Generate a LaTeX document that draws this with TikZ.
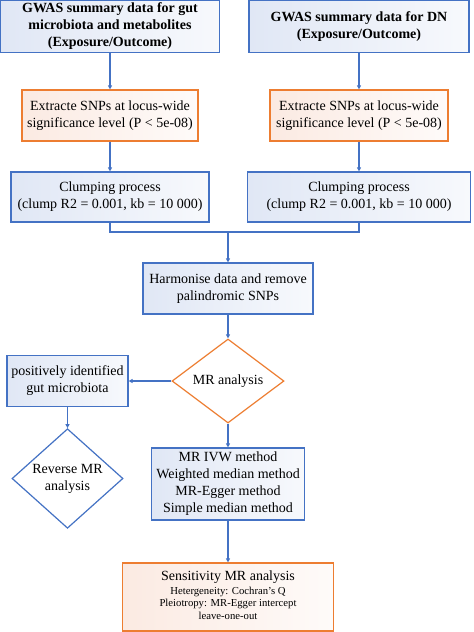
\documentclass[tikz,border=0pt]{standalone}
\usepackage{fontspec}
\setmainfont{Liberation Serif}
\usetikzlibrary{positioning,shapes.geometric,arrows.meta}
\definecolor{lineblue}{RGB}{68,114,196}
\definecolor{lineorange}{RGB}{237,125,49}
\definecolor{fillblue}{RGB}{224,231,245}
\definecolor{fillorange}{RGB}{251,234,226}
\begin{document}
\begin{tikzpicture}[x = 1pt, y = -1pt,
  base/.style = {align = center, inner sep = 0pt, line width = 1.2pt, font = \fontsize{14}{17}\selectfont},
  bluebox/.style = {base, draw = lineblue, left color = fillblue, right color = fillblue!25!white},
  orangebox/.style = {base, draw = lineorange, left color = fillorange, right color = fillorange!20!white},
  decision/.style = {base, diamond, fill = white},
  link/.style = {draw = lineblue, line width = 1.2pt, -{Triangle[length = 4pt, width = 4pt]}}]
\useasboundingbox (0,0) rectangle (474,632);
% the two data sources
\node[bluebox, minimum width = 219pt, minimum height = 52pt, font = \fontsize{14}{17}\selectfont\bfseries] (gwasA) at (110,26.5) {GWAS summary data for gut\\microbiota and metabolites\\(Exposure/Outcome)};
\node[bluebox, minimum width = 220pt, minimum height = 52pt, font = \fontsize{14}{17}\selectfont\bfseries] (gwasB) at (359,26.5) {GWAS summary data for DN\\(Exposure/Outcome)};
\node[orangebox, minimum width = 176pt, minimum height = 51pt] (extA) at (110,115.5) {Extracte SNPs at locus-wide\\significance level (P < 5e-08)};
\node[orangebox, minimum width = 178pt, minimum height = 51pt] (extB) at (359,115.5) {Extracte SNPs at locus-wide\\significance level (P < 5e-08)};
\node[bluebox, minimum width = 198pt, minimum height = 50pt] (clumpA) at (110,197) {Clumping process\\(clump R2 = 0.001, kb = 10 000)};
\node[bluebox, minimum width = 223pt, minimum height = 50pt] (clumpB) at (359,197) {Clumping process\\(clump R2 = 0.001, kb = 10 000)};
\draw[link] (gwasA) -- (extA);
\draw[link] (gwasB) -- (extB);
\draw[link] (extA) -- (clumpA);
\draw[link] (extB) -- (clumpB);
% merge
\coordinate (join) at (228,232);
\draw[draw = lineblue, line width = 1.2pt] (clumpA.south) |- (join) -| (clumpB.south);
\node[bluebox, minimum width = 170pt, minimum height = 51pt] (harm) at (228,288.5) {Harmonise data and remove\\palindromic SNPs};
\draw[link] (join) -- (harm);
\node[decision, draw = lineorange, minimum width = 112pt, minimum height = 84pt] (mr) at (228,381) {MR analysis};
\draw[link] (harm) -- (mr);
\node[bluebox, minimum width = 121pt, minimum height = 51pt] (pos) at (67.5,381) {positively identified\\gut microbiota};
\draw[link] (mr) -- (pos);
\node[decision, draw = lineblue, minimum width = 111pt, minimum height = 83pt] (rev) at (67.5,478.5) {Reverse MR\\analysis};
\draw[link] (pos) -- (rev);
\node[bluebox, minimum width = 153pt, minimum height = 72pt] (methods) at (228,484) {MR IVW method\\Weighted median method\\MR-Egger method\\Simple median method};
\draw[link] (mr) -- (methods);
\node[orangebox, minimum width = 211pt, minimum height = 68pt] (sens) at (228,597) {Sensitivity MR analysis\\[1pt]
  {\fontsize{10.7}{12.5}\selectfont\begin{tabular}{@{}c@{}}Hetergeneity: Cochran's Q\\Pleiotropy: MR-Egger intercept\\leave-one-out\end{tabular}}};
\draw[link] (methods) -- (sens);
\end{tikzpicture}
\end{document}
